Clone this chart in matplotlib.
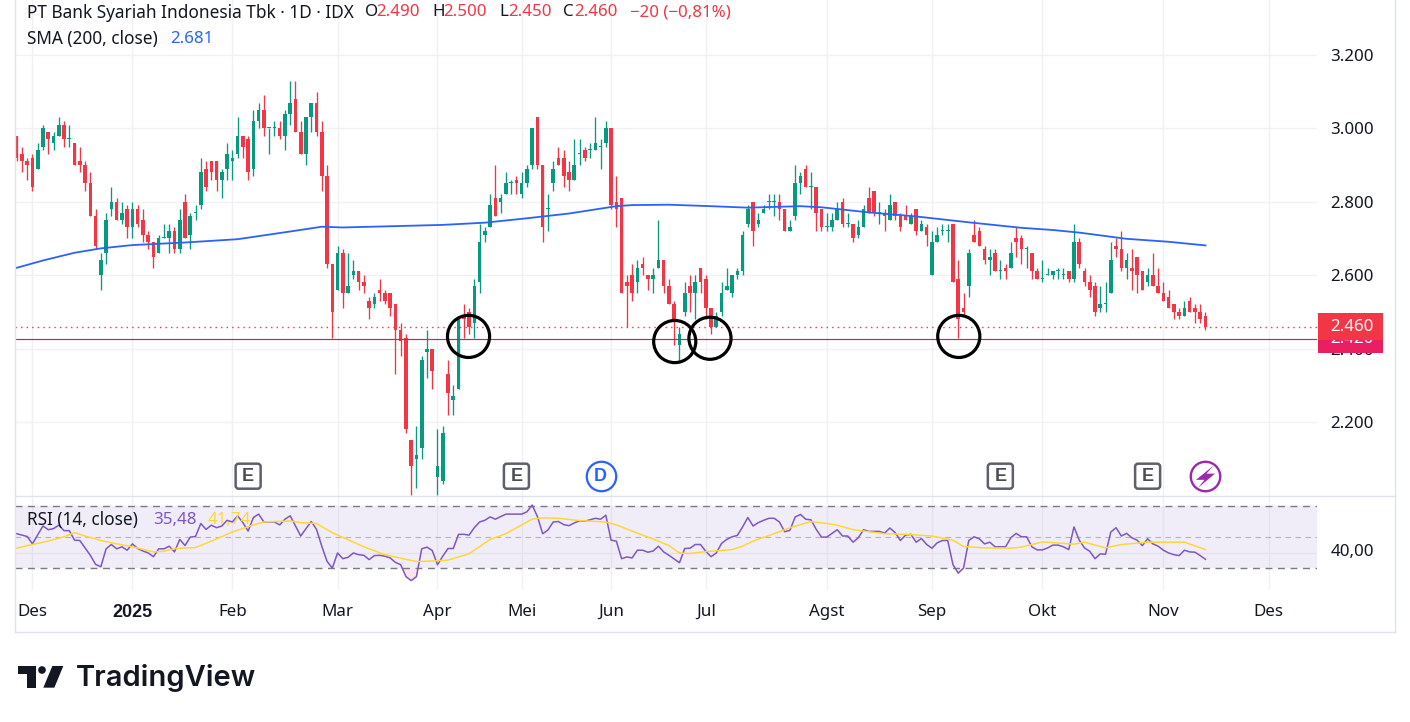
import numpy as np
import matplotlib
matplotlib.use("Agg")
import matplotlib.pyplot as plt
from matplotlib.patches import FancyBboxPatch, Rectangle, Polygon, Circle
from matplotlib.lines import Line2D
from matplotlib.transforms import IdentityTransform, ScaledTranslation

plt.rcParams["font.family"] = ["Noto Sans", "DejaVu Sans"]

# Daily candles, prices in rupiah
opens = [2980,2930,2910,2920,2890,2950,2990,2960,2980,3010,
         2970,2960,2910,2900,2850,2760,2600,2660,2780,2800,
         2750,2780,2730,2780,2750,2710,2690,2660,2700,2700,
         2720,2670,2800,2710,2770,2790,2890,2910,2910,2860,
         2890,2910,2930,2980,2970,2890,3020,3050,3000,3000,
         3000,2980,3040,3080,2990,2930,3030,3070,2990,2870,
         2630,2560,2660,2550,2600,2610,2580,2530,2520,2560,
         2550,2550,2520,2450,2430,2150,2100,2130,2390,2400,
         2050,2040,2330,2260,2290,2490,2500,2470,2580,2710,
         2730,2810,2800,2820,2850,2860,2820,2850,2900,3030,
         2900,2780,2850,2920,2920,2880,2860,2930,2940,2940,
         2940,2950,2960,3000,2800,2810,2580,2600,2580,2630,
         2600,2590,2620,2640,2570,2520,2410,2500,2570,2550,
         2620,2590,2510,2460,2500,2560,2550,2600,2610,2740,
         2800,2740,2770,2800,2800,2800,2780,2720,2760,2850,
         2890,2840,2840,2780,2730,2730,2750,2800,2740,2740,
         2710,2730,2810,2830,2770,2770,2750,2800,2760,2760,
         2740,2780,2720,2730,2600,2690,2720,2720,2740,2590,
         2510,2570,2710,2720,2670,2640,2660,2610,2620,2620,
         2700,2700,2670,2660,2610,2590,2600,2600,2610,2600,
         2610,2590,2690,2610,2580,2570,2510,2520,2550,2680,
         2670,2620,2620,2650,2610,2580,2600,2570,2550,2540,
         2520,2500,2490,2530,2510,2500,2490]
highs = [2980,2950,2920,2930,2960,3010,2990,2990,3030,3020,
         3010,2960,2950,2910,2880,2780,2660,2770,2840,2810,
         2800,2790,2800,2790,2780,2720,2690,2710,2740,2740,
         2730,2780,2820,2770,2790,2920,2910,2910,2910,2890,
         2960,2940,3030,2980,2980,3050,3070,3090,3000,3020,
         3020,3050,3130,3130,3020,3030,3070,3100,3020,2900,
         2630,2680,2670,2660,2640,2610,2600,2540,2550,2590,
         2560,2550,2520,2470,2440,2150,2190,2380,2450,2400,
         2180,2190,2370,2300,2480,2520,2510,2590,2740,2730,
         2820,2900,2820,2880,2860,2870,2880,2900,3000,3030,
         2900,2820,2910,2950,2940,2910,2970,2970,2950,2960,
         3030,2970,3020,3000,2870,2810,2600,2630,2640,2650,
         2600,2620,2750,2640,2590,2530,2460,2580,2600,2600,
         2620,2600,2510,2500,2580,2620,2600,2620,2720,2790,
         2800,2770,2790,2820,2820,2820,2780,2750,2900,2880,
         2900,2880,2840,2780,2770,2770,2800,2810,2770,2740,
         2750,2790,2840,2830,2800,2780,2820,2800,2770,2790,
         2770,2780,2750,2740,2720,2730,2740,2740,2740,2640,
         2550,2670,2750,2730,2680,2670,2670,2640,2630,2690,
         2730,2710,2680,2660,2620,2640,2620,2610,2620,2620,
         2610,2740,2700,2620,2600,2580,2570,2580,2690,2700,
         2720,2660,2670,2650,2610,2620,2660,2620,2580,2560,
         2520,2510,2530,2540,2520,2520,2500]
lows = [2910,2880,2860,2830,2890,2940,2930,2940,2980,2950,
        2950,2900,2880,2830,2760,2670,2560,2630,2760,2750,
        2740,2700,2700,2730,2690,2670,2620,2660,2700,2660,
        2660,2660,2700,2670,2750,2780,2830,2860,2830,2810,
        2860,2860,2920,2920,2860,2870,3000,2980,2930,2980,
        2970,2940,3010,2990,2930,2900,2990,2980,2830,2620,
        2430,2560,2510,2550,2590,2560,2550,2480,2510,2530,
        2520,2490,2330,2380,2170,2000,2020,2100,2320,2290,
        2000,2030,2220,2220,2290,2430,2440,2430,2550,2690,
        2730,2760,2770,2820,2820,2820,2810,2840,2890,2890,
        2690,2720,2830,2900,2840,2830,2860,2900,2910,2920,
        2940,2890,2950,2780,2730,2550,2460,2530,2550,2600,
        2560,2550,2620,2550,2520,2410,2360,2490,2500,2480,
        2550,2480,2440,2460,2490,2560,2540,2590,2600,2730,
        2680,2730,2770,2780,2760,2750,2720,2720,2750,2820,
        2840,2780,2720,2720,2720,2720,2750,2730,2730,2690,
        2700,2730,2770,2760,2740,2720,2750,2750,2720,2750,
        2740,2710,2720,2680,2600,2690,2710,2690,2580,2430,
        2490,2540,2690,2680,2630,2600,2610,2590,2590,2620,
        2650,2630,2620,2590,2590,2580,2600,2590,2590,2590,
        2580,2580,2620,2570,2540,2490,2500,2500,2550,2650,
        2610,2590,2560,2550,2560,2570,2570,2550,2530,2510,
        2480,2480,2490,2500,2470,2470,2450]
closes = [2920,2910,2900,2840,2940,3000,2970,2980,3010,2970,
          2970,2900,2900,2850,2760,2680,2640,2750,2800,2750,
          2770,2730,2780,2740,2710,2690,2650,2700,2700,2720,
          2670,2750,2700,2760,2770,2880,2840,2880,2860,2880,
          2930,2920,2980,2950,2880,3020,3050,3000,3000,3000,
          2980,3040,3070,2990,2930,3030,3070,2990,2870,2630,
          2500,2660,2550,2570,2610,2580,2570,2510,2540,2550,
          2530,2510,2450,2420,2180,2080,2110,2370,2400,2340,
          2080,2170,2280,2270,2480,2480,2460,2570,2690,2720,
          2790,2760,2810,2850,2850,2850,2850,2890,3000,2900,
          2730,2780,2890,2900,2870,2860,2900,2930,2920,2940,
          2960,2950,3000,2790,2780,2550,2570,2550,2620,2620,
          2590,2600,2640,2570,2520,2480,2440,2550,2550,2580,
          2580,2510,2460,2490,2550,2570,2600,2610,2710,2780,
          2720,2750,2780,2800,2800,2780,2720,2730,2850,2870,
          2840,2840,2770,2730,2730,2750,2780,2740,2740,2700,
          2730,2780,2770,2770,2770,2760,2790,2760,2730,2750,
          2760,2720,2740,2710,2690,2710,2720,2720,2580,2480,
          2500,2660,2690,2680,2640,2650,2610,2610,2610,2660,
          2690,2670,2670,2610,2590,2590,2600,2610,2610,2600,
          2590,2690,2630,2580,2560,2500,2520,2520,2640,2670,
          2620,2640,2610,2600,2560,2600,2570,2550,2530,2510,
          2500,2490,2510,2500,2500,2480,2460]

# SMA 200 read at some bars
sma_bars = [0,5,11,16,22,32,42,52,58,62,73,81,89,97,105,114,117,124,132,139,149,153,162,171,181,191,197,202,211,219,226]
sma_vals = [2620,2640,2661,2673,2682,2689,2698,2719,2732,2730,2734,2737,2743,2755,2768,2788,2791,2792,2788,2784,2788,2785,2771,2760,2744,2729,2723,2716,2699,2691,2681]

# RSI 14 for every bar
rsi_vals = [52.3,51.4,50.5,45.7,51.6,57.3,54.9,55.6,57.8,54.3,
            54.3,48.1,47.9,43.1,38.3,32.4,30.9,42.5,45.3,42.5,
            43.8,41.6,45.7,42.7,41.1,39.8,37.4,42.5,42.5,44.2,
            40.5,48.6,44.6,50.1,50.5,58.9,55.1,57.8,56.2,57.3,
            61,59.9,63.9,59.5,54,62.8,65,59.9,59.9,59.9,
            58,61.7,63.9,57.3,50.8,55.6,60.2,55.1,44.2,34.4,
            30,39.8,36.1,37,39.8,38.7,38.3,35.5,38.1,38.3,
            37.7,36.6,33.7,32.2,24.5,21.9,24.5,42.5,43.6,41.4,
            32.2,37.7,42.7,42.7,51.9,51.9,51.4,56.2,59.9,61,
            63.2,61.7,63.4,65,65,65,65,66.5,70.9,63.4,
            52.3,54.7,59.9,60.2,58.2,57.5,59.3,60.6,60.4,61.3,
            62.3,61.7,64.3,48.1,47.5,36.1,37.2,36.6,41.6,41.6,
            40.3,41.1,44.2,40.5,38.3,35.9,33.5,42.7,42.9,45.3,
            45.3,40.9,37.4,39.8,46,48.6,50.3,51.2,56.7,62.8,
            57.3,59.5,61,62.3,62.3,59.9,53.6,54.5,63.2,64.8,
            61.7,61.3,55.1,50.1,50.1,52.5,54.9,50.8,50.8,46.8,
            49.7,54.9,53.8,53.8,53.8,52.7,56,53,47.9,51.4,
            51.9,46.8,49.2,45.3,42.9,46.4,47.9,47.9,32.2,26.7,
            30,47.9,50.3,49,45.7,46.8,43.8,43.8,43.8,49.7,
            52.5,50.3,50.3,43.8,41.8,41.8,43.1,44.9,44.9,43.8,
            42,56.7,48.1,43.1,40.9,36.1,39.2,39,53.4,56.2,
            50.8,52.5,49.7,48.1,44.6,49,45.7,44.2,41.6,39.8,
            38.7,38.1,41.6,40.5,40.3,38.1,35.7]

# RSI moving average read at some bars
rsi_ma_bars = [0,3,6,9,11,13,16,18,22,26,28,30,34,37,41,45,47,52,54,57,60,66,70,76,79,82,86,90,93,98,100,103,107,112,114,117,122,124,126,128,131,136,138,140,144,147,151,154,156,159,165,169,174,178,180,184,189,191,195,201,203,207,210,215,222,226]
rsi_ma_vals = [42.9,45.3,47.5,50.3,53,50.8,47.9,46.4,43.8,40.5,40.9,42.7,43.3,47.5,53.4,58,59.9,60.6,59.5,58.9,53,43.8,38.7,34.2,34.6,35.2,39.3,48.6,52.3,61.7,62.6,62.3,60.8,59.9,58,54,47.5,44.6,39.8,39.4,40.7,42,44.2,47.5,52.3,56.2,60.2,58.9,57.8,54.9,52.3,51.9,50.8,48.1,44,43.1,42.9,43.6,47,45.5,46.8,43.1,45.3,46.8,46.8,42]

# Axis labels
price_ticks = [2200, 2400, 2600, 2800, 3000, 3200]
price_labels = ["2.200", "2.400", "2.600", "2.800", "3.000", "3.200"]
month_bars = [3, 22, 41, 61, 80, 96, 113, 131, 154, 174, 195, 218, 238]
month_labels = ["Des", "2025", "Feb", "Mar", "Apr", "Mei", "Jun", "Jul", "Agst", "Sep", "Okt", "Nov", "Des"]

# Drawn on the chart
last_price = 2460
line_price = 2425
circle_bars = [85.9, 125.1, 131.8, 179.1]
circle_prices = [2433, 2419, 2428, 2433]
earnings_bars = [44, 95, 187, 215]
dividend_bar = 111
split_bar = 226
event_price = 2052

GREEN = "#089981"
RED = "#f23645"
BLUE = "#2962ff"
PURPLE = "#7e57c2"
YELLOW = "#fdd835"
TEXT = "#131722"
GRID = "#f0f1f5"
BORDER = "#e0e3eb"
FS = 12.2

W, H = 1410, 722
fig = plt.figure(figsize=(W / 100, H / 100), dpi=100)


def fx(x):
    return x / W


def fy(y):
    return 1 - y / H


ax = fig.add_axes([fx(15), fy(496), 1302 / W, 496 / H])
ax2 = fig.add_axes([fx(15), fy(590), 1302 / W, 94 / H])

xlim = (-0.32, 247.2)
for a in (ax, ax2):
    a.set_xlim(xlim)
    a.set_xticks(month_bars)
    a.grid(True, color=GRID, lw=1)
    a.set_axisbelow(True)
    a.tick_params(length=0, labelsize=FS, labelcolor=TEXT)
    a.yaxis.tick_right()
    for s in a.spines.values():
        s.set_visible(False)

# Price panel
ax.set_ylim(1998, 3350)
ax.set_yticks(price_ticks)
ax.set_yticklabels(price_labels)
ax.tick_params(axis="y", pad=9.5)
ax.tick_params(axis="x", labelbottom=False)

bars = np.arange(len(closes))
o = np.array(opens, dtype=float)
c = np.array(closes, dtype=float)
colors = [GREEN if cl >= op else RED for op, cl in zip(o, c)]
ax.vlines(bars, lows, highs, colors=colors, lw=0.95, zorder=3)
ax.bar(bars, np.maximum(np.abs(c - o), 3), bottom=np.minimum(o, c), width=0.68, color=colors, lw=0, zorder=3)

ax.plot(sma_bars, sma_vals, color=BLUE, lw=1.3, zorder=4)
ax.axhline(last_price, color=RED, lw=1, ls=(0, (1, 3)), zorder=2)
ax.axhline(line_price, color="#d81b60", lw=0.85, zorder=4)

ax.scatter(circle_bars, circle_prices, s=920, facecolors="none", edgecolors="black", linewidths=2.3, zorder=6)

# Earnings, dividend and split flags
for b in earnings_bars:
    xc, yc = ax.transData.transform((b, event_price))
    ax.add_patch(FancyBboxPatch((xc - 12.5, yc - 12.5), 25, 25, boxstyle="round,pad=0,rounding_size=3",
                                transform=IdentityTransform(), fc="white", ec="#5d606b", lw=1.8, zorder=7, clip_on=False))
    ax.text(b, event_price, "E", color="#4a4d57", fontsize=13, family="Liberation Sans", fontweight="bold", ha="center", va="center", zorder=8)
ax.scatter([dividend_bar], [event_price], s=450, fc="white", ec=BLUE, linewidths=1.6, zorder=7)
ax.text(dividend_bar, event_price, "D", color=BLUE, fontsize=13, family="Liberation Sans", fontweight="bold", ha="center", va="center", zorder=8)
ax.scatter([split_bar], [event_price], s=450, fc="white", ec="#9c27b0", linewidths=1.7, zorder=7)
bolt = [(17, 23), (-20, -7), (-2, -7), (-16, -24), (20, 6), (2, 6)]
ax.scatter([split_bar], [event_price], s=270, marker=bolt, color="#9c27b0", linewidths=0, zorder=8)

# Price tags on the right scale
tag_x, tag_w = 1 + 1 / 1302, 65 / 1302
tag_h = 26.5 * 2.725
trans = ax.get_yaxis_transform()
ax.add_patch(Rectangle((tag_x, line_price - tag_h / 2), tag_w, tag_h, transform=trans, fc="#e91e63", lw=0, zorder=5, clip_on=False))
ax.text(1 + 13.5 / 1302, line_price, "2.420", transform=trans, color="white", fontsize=FS, va="center", zorder=6, clip_on=False)
ax.add_patch(Rectangle((tag_x, last_price - tag_h / 2), tag_w, tag_h, transform=trans, fc=RED, lw=0, zorder=7, clip_on=False))
ax.text(1 + 13.5 / 1302, last_price, "2.460", transform=trans, color="white", fontsize=FS, va="center", zorder=8, clip_on=False)

# RSI panel
ax2.set_ylim(15.8, 76.75)
ax2.set_yticks([40])
ax2.set_yticklabels(["40,00"])
ax2.tick_params(axis="y", pad=9.5)
for lab in ax2.get_yticklabels():
    lab.set_transform(lab.get_transform() + ScaledTranslation(0, 2 / 72, fig.dpi_scale_trans))
ax2.set_xticklabels(month_labels)
ax2.tick_params(axis="x", pad=10)
year_label = ax2.get_xticklabels()[1]
year_label.set_family("Liberation Sans")
year_label.set_fontweight("bold")
year_label.set_fontsize(13)
ax2.axhspan(30, 70, color=PURPLE, alpha=0.1, lw=0)
rsi = np.array(rsi_vals)
ax2.fill_between(bars, rsi, 30, where=rsi < 30, interpolate=True, color=RED, alpha=0.12, lw=0)
ax2.fill_between(bars, rsi, 70, where=rsi > 70, interpolate=True, color=GREEN, alpha=0.12, lw=0)
ax2.axhline(70, color="#787b86", lw=1, ls=(0, (5, 4)))
ax2.axhline(30, color="#787b86", lw=1, ls=(0, (5, 4)))
ax2.axhline(50, color="#787b86", lw=0.8, ls=(0, (5, 4)), alpha=0.5)
ax2.plot(bars, rsi, color=PURPLE, lw=1.1, zorder=4)
ax2.plot(rsi_ma_bars, rsi_ma_vals, color=YELLOW, lw=1.1, zorder=4)


def label(x, y, s, color=TEXT, size=FS):
    fig.text(fx(x), fy(y), s, color=color, fontsize=size, ha="left", va="center")


# Legends
label(27, 12.5, "PT Bank Syariah Indonesia Tbk \u00b7 1D \u00b7 IDX", size=12.4)
label(364.5, 12.5, "O")
label(376.5, 12.5, "2.490", RED)
label(432, 12.5, "H")
label(443.5, 12.5, "2.500", RED)
label(499, 12.5, "L")
label(508, 12.5, "2.450", RED)
label(563.5, 12.5, "C")
label(574.5, 12.5, "2.460", RED)
label(629.5, 12.5, "\u221220 (\u22120,81%)", RED)
label(27, 39, "SMA (200, close)", size=12.4)
label(170, 39, "2.681", BLUE)
label(27, 520, "RSI (14, close)", size=12.4)
label(153, 520, "35,48", PURPLE)
label(208, 520, "41,74", YELLOW)

# Panel borders
for x0, y0, x1, y1 in [(15, 0, 15, 632), (1395, 0, 1395, 632), (15, 632, 1395, 632), (15, 496, 1395, 496)]:
    fig.add_artist(Line2D([fx(x0), fx(x1)], [fy(y0), fy(y1)], color=BORDER, lw=1))

# TradingView logo
logo = fig.add_axes([0, fy(710), 280 / W, 60 / H])
logo.set_xlim(0, 840)
logo.set_ylim(180, 0)
logo.axis("off")
logo.add_patch(Polygon([(55, 48), (108, 48), (108, 113), (82, 113), (82, 72), (55, 72)], fc="#131722", lw=0))
logo.add_patch(Circle((126, 60), 11.5, fc="#131722", lw=0))
logo.add_patch(Polygon([(157, 48), (190, 48), (163, 113), (130, 113)], fc="#131722", lw=0))
fig.text(fx(76), fy(678), "TradingView", color="#131722", fontsize=21, family="Inter", fontweight="semibold", ha="left", va="center")

fig.savefig("out.png", dpi=100)
